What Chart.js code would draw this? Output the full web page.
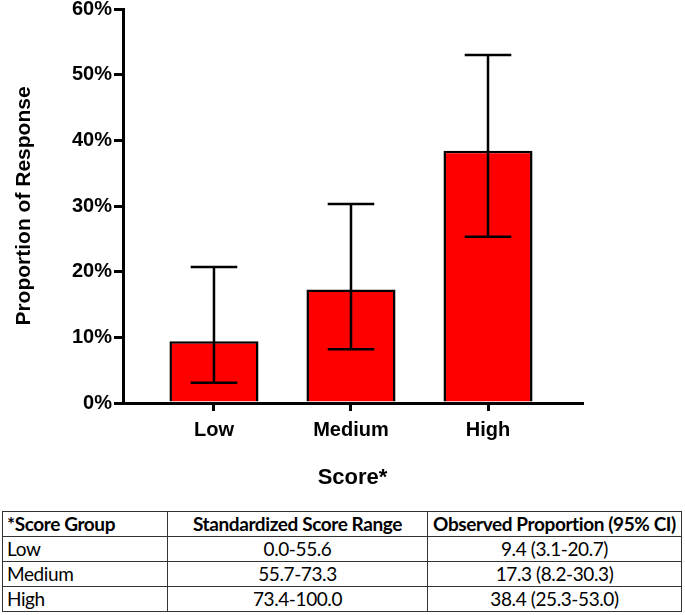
<!DOCTYPE html>
<html>
<head>
<meta charset="utf-8">
<script src="https://cdn.jsdelivr.net/npm/chart.js@4.4.1/dist/chart.umd.min.js"></script>
<style>
	html, body { margin: 0; padding: 0; background: #fff; }
	#wrap { position: relative; width: 685px; height: 505px; }
	table {
		position: absolute; left: 2px; top: 511px; width: 680px;
		border-collapse: collapse; table-layout: fixed; font-family: Lato, "Open Sans", sans-serif;
		font-size: 19px; letter-spacing: -0.4px; color: #000;
	}
	td, th { border: 1.5px solid #333; height: 24px; padding: 0 4px; line-height: 22px; white-space: nowrap; overflow: hidden; }
	th { font-weight: bold; text-align: center; }
	th:first-child, td:first-child { text-align: left; }
	td { text-align: center; }
</style>
</head>
<body>
<div id="wrap"><canvas id="scoreChart"></canvas></div>
<table id="scoreTable"></table>
<script>
var categories = [ 'Low', 'Medium', 'High' ];
var proportion = [ 9.4, 17.3, 38.4 ];
var ciLower = [ 3.1, 8.2, 25.3 ];
var ciUpper = [ 20.7, 30.3, 53.0 ];
var scoreRange = [ '0.0-55.6', '55.7-73.3', '73.4-100.0' ];
var yTicks = [ 0, 10, 20, 30, 40, 50, 60 ];
var tableHeader = [ '*Score Group', 'Standardized Score Range', 'Observed Proportion (95% CI)' ];

var chart = {

	buildTable : function() {
		var html = '<tr>';
		tableHeader.forEach(function(h, i) {
			var w = [ '156px', '251px', 'auto' ][i];
			html += '<th style="width:' + w + '">' + h + '</th>';
		});
		html += '</tr>';
		categories.forEach(function(c, i) {
			html += '<tr><td>' + c + '</td><td>' + scoreRange[i] + '</td><td>'
					+ proportion[i].toFixed(1) + ' (' + ciLower[i].toFixed(1) + '-'
					+ ciUpper[i].toFixed(1) + ')</td></tr>';
		});
		document.getElementById('scoreTable').innerHTML = html;
	},

	// draws the 95% CI whiskers over each bar
	errorBars : {
		id : 'errorBars',
		afterDatasetsDraw : function(c) {
			var ctx = c.ctx, x = c.scales.x, y = c.scales.y;
			ctx.save();
			ctx.strokeStyle = '#000';
			ctx.lineWidth = 2.5;
			categories.forEach(function(cat, i) {
				var px = x.getPixelForValue(i);
				var top = y.getPixelForValue(ciUpper[i]);
				var bot = y.getPixelForValue(ciLower[i]);
				var half = (x.getPixelForValue(1) - x.getPixelForValue(0)) * 0.17;
				ctx.beginPath();
				ctx.moveTo(px, top); ctx.lineTo(px, bot);
				ctx.moveTo(px - half, top); ctx.lineTo(px + half, top);
				ctx.moveTo(px - half, bot); ctx.lineTo(px + half, bot);
				ctx.stroke();
			});
			ctx.restore();
		}
	},

	renderChart : function() {
		var family = '"Liberation Sans", Arial, sans-serif';
		var font = { family : family, weight : 'bold', size : 20 };
		var xMin = -0.664, xMax = 2.686;

		return new Chart(document.getElementById('scoreChart').getContext('2d'), {
			type : 'bar',
			data : {
				datasets : [ {
					data : proportion.map(function(v, i) { return { x : i, y : v }; }),
					backgroundColor : '#ff0000',
					borderColor : '#000',
					borderWidth : 2.5,
					borderSkipped : 'bottom',
					barPercentage : 0.65,
					categoryPercentage : 1.0
				} ]
			},
			options : {
				responsive : true,
				maintainAspectRatio : false,
				animation : false,
				layout : { padding : { top : 9, right : 103, left : 0, bottom : 0 } },
				plugins : { legend : { display : false }, tooltip : { enabled : false } },
				scales : {
					x : {
						type : 'linear',
						offset : false,
						min : xMin,
						max : xMax,
						afterBuildTicks : function(s) {
							s.ticks = categories.map(function(c, i) { return { value : i }; });
						},
						afterFit : function(s) { s.height = 102; },
						border : { display : true, color : '#000', width : 3 },
						grid : { display : true, offset : false, drawOnChartArea : false, drawTicks : true, tickLength : 8, color : '#000', lineWidth : 3 },
						ticks : {
							autoSkip : false,
							maxRotation : 0,
							padding : 7,
							color : '#000',
							font : font,
							callback : function(v) { return categories[v]; }
						},
						title : { display : true, text : 'Score*', color : '#000', font : { family : family, weight : 'bold', size : 22 }, padding : { top : 0, bottom : 14 } }
					},
					y : {
						min : 0,
						max : 60,
						afterBuildTicks : function(s) {
							s.ticks = yTicks.map(function(v) { return { value : v }; });
						},
						afterFit : function(s) { s.width = 123; s.paddingTop = 0; s.paddingBottom = 0; },
						border : { display : true, color : '#000', width : 3 },
						grid : { display : true, drawOnChartArea : false, drawTicks : true, tickLength : 9, color : '#000', lineWidth : 3 },
						ticks : {
							padding : 2,
							color : '#000',
							font : font,
							callback : function(v) { return v + '%'; }
						},
						title : { display : true, text : 'Proportion of Response', color : '#000', font : { family : family, weight : 'bold', size : 21 }, padding : { top : 12, bottom : 0 } }
					}
				}
			},
			plugins : [ chart.errorBars ]
		});
	}
};

chart.buildTable();
chart.renderChart();
</script>
</body>
</html>
